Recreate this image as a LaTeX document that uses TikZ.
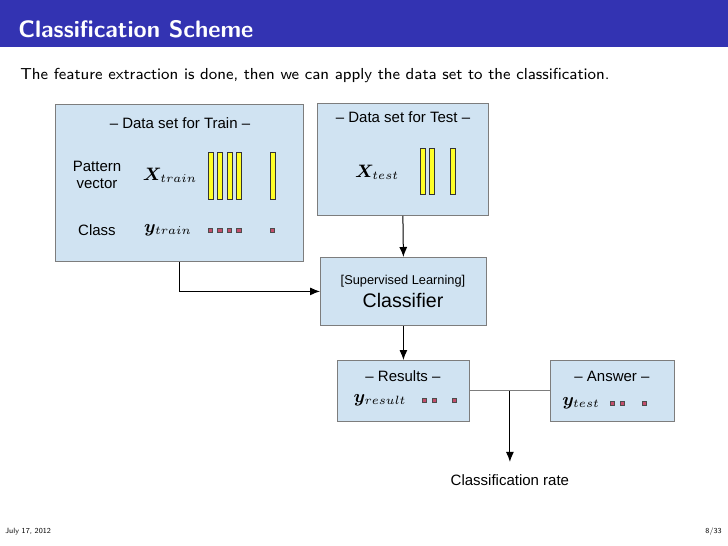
\documentclass[tikz,border=0pt]{standalone}
\usepackage{amsmath}
\usepackage{bm}
\usepackage{fontspec}
\newfontfamily\arialfont{Liberation Sans}
\usetikzlibrary{arrows.meta, positioning, calc}
\definecolor{headblue}{RGB}{51,51,178}
\definecolor{boxblue}{RGB}{208,227,242}
\definecolor{boxline}{RGB}{125,125,125}
\definecolor{baryellow}{RGB}{255,255,40}
\definecolor{classred}{RGB}{196,78,108}
\tikzstyle{databox} = [rectangle, draw=boxline, fill=boxblue, inner sep=0pt, anchor=north west]
\tikzstyle{label} = [inner sep=0pt, font=\arialfont\fontsize{7.5}{8.6}\selectfont, align=center]
\tikzstyle{mathlabel} = [inner sep=0pt, font=\fontsize{8.7}{10}\selectfont]
\tikzstyle{bar} = [draw=black!80, fill=baryellow, line width=0.4pt]
\tikzstyle{dot} = [draw=black!70, fill=classred, line width=0.3pt]
\tikzstyle{arrowline} = [-{Latex[length=5pt,width=4pt]}, line width=0.5pt]

\begin{document}
\begin{tikzpicture}[x=0.5pt, y=-0.5pt]
\useasboundingbox (0,0) rectangle (728,546);
% frame title and text
\fill[headblue] (0,0) rectangle (728,47);
\node (title) [anchor=base west, inner sep=0pt, text=white, font=\sffamily\bfseries\fontsize{11.9}{13}\selectfont] at (18,37) {Classification Scheme};
\node (intro) [anchor=base west, inner sep=0pt, font=\sffamily\fontsize{7.95}{9}\selectfont] at (20,79) {The feature extraction is done, then we can apply the data set to the classification.};
\node (date) [anchor=base west, inner sep=0pt, font=\sffamily\fontsize{3.8}{4.5}\selectfont] at (5,533) {July 17, 2012};
\node (page) [anchor=base east, inner sep=0pt, font=\sffamily\fontsize{3.8}{4.5}\selectfont] at (722,533) {8/33};

% boxes
\node (train) [databox, minimum width=124pt, minimum height=78.5pt] at (55,104) {};
\node (test) [databox, minimum width=85.5pt, minimum height=56pt] at (317,103) {};
\node (classifier) [databox, minimum width=83pt, minimum height=34pt] at (320,257) {};
\node (results) [databox, minimum width=66pt, minimum height=30.5pt] at (337,360) {};
\node (answer) [databox, minimum width=62pt, minimum height=30.5pt] at (550,360) {};

% train data
\node (traintitle) [label] at (180,123) {\textendash{} Data set for Train \textendash};
\node (pattern) [label] at (97,175) {Pattern\\vector};
\node (class) [label] at (97,230) {Class};
\node (xtrain) [mathlabel] at (170,175) {$\bm{X}_{train}$};
\node (ytrain) [mathlabel] at (168,230) {$\bm{y}_{train}$};
\foreach \x in {208,217.5,227,236.5,270}
{
  \draw[bar] (\x,152) rectangle ++(5,47);
  \draw[dot] (\x,228) rectangle ++(4.5,4.5);
}

% test data
\node (testtitle) [label] at (403,117) {\textendash{} Data set for Test \textendash};
\node (xtest) [mathlabel] at (377,172) {$\bm{X}_{test}$};
\foreach \x in {420,429,450}
  \draw[bar] (\x,148) rectangle ++(5,46);

% classifier
\node (supervised) [label, font=\arialfont\fontsize{6.4}{7.5}\selectfont] at (403,281) {[Supervised Learning]};
\node (classname) [label, font=\arialfont\fontsize{9.8}{11}\selectfont] at (403,300) {Classifier};

% results and answer
\node (resulttitle) [label] at (403,376) {\textendash{} Results \textendash};
\node (yresult) [mathlabel] at (380,400) {$\bm{y}_{result}$};
\foreach \x in {422,432,452}
  \draw[dot] (\x,398) rectangle ++(4.5,4.5);
\node (answertitle) [label] at (612,376) {\textendash{} Answer \textendash};
\node (ytest) [mathlabel] at (581,403) {$\bm{y}_{test}$};
\foreach \x in {610,620,642}
  \draw[dot] (\x,401) rectangle ++(4.5,4.5);

% connectors
\draw[arrowline] (test.south) -- (classifier.north);
\draw[arrowline] (train.south) |- (classifier.west);
\draw[arrowline] (classifier.south) -- (results.north);
\draw[boxline, line width=0.5pt] (results.east) -- (answer.west);
\coordinate (join) at ($(results.east)!0.5!(answer.west)$);
\node (rate) [label, below=35.5pt of join, inner sep=6pt] {Classification rate};
\draw[arrowline] (join) -- (rate.north);
\end{tikzpicture}
\end{document}
